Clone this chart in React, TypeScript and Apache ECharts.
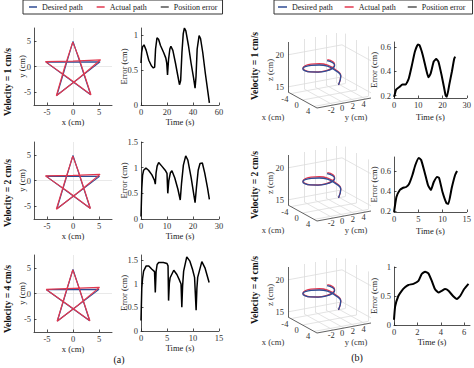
import React, { useEffect, useRef } from 'react';
import * as echarts from 'echarts';

const FONT = 'Liberation Serif, Times New Roman, serif';
const BLUE = '#2f4d95';
const RED = '#e2384f';

// ---------- (a) star paths: desired / actual, per velocity row ----------
const starDesX = [
  [0, 3.4, -5.2, 5.2, -3.1, 0],
  [0, 3.3, -5.2, 5.1, -3.1, 0],
  [0, 3.2, -5.1, 5.0, -3.0, 0],
];
const starDesY = [
  [4.9, -5.5, 0.85, 0.9, -5.6, 4.9],
  [4.9, -5.4, 0.85, 0.8, -5.5, 4.9],
  [4.7, -5.3, 0.75, 0.8, -5.35, 4.7],
];
const starActX = [
  [-0.05, 1.1, 3.45, -0.95, -5.3, 0, 5.3, 1.0, -3.2, -1.65, -0.05],
  [-0.05, 1.05, 3.35, -1.0, -5.3, 0, 5.2, 0.95, -3.2, -1.6, -0.05],
  [-0.05, 1.0, 3.25, -1.0, -5.15, 0, 5.1, 0.95, -3.05, -1.55, -0.05],
];
const starActY = [
  [4.75, 1.8, -5.5, -2.2, 0.95, 1.05, 1.3, -2.4, -5.7, -0.3, 4.75],
  [4.75, 1.75, -5.45, -2.15, 0.9, 1.0, 1.2, -2.35, -5.6, -0.3, 4.75],
  [4.6, 1.6, -5.3, -2.2, 0.8, 1.0, 1.2, -2.3, -5.4, -0.35, 4.6],
];

// ---------- (a) position error vs time ----------
const errAT = [
  [0, 0.5, 1.2, 2.3, 4, 6, 8, 9.5, 10.5, 11.2, 12.3, 13.5, 15, 17.4, 19.1, 19.8, 20.4, 21.2, 22.2, 23, 24.5, 26.5, 28.5, 29.6, 30.5, 31.5, 32.5, 33.4, 34.5, 36.5, 38.5, 40.5, 41.6, 42.3, 43.2, 44.7, 45.8, 47.5, 49.5, 51.5, 52.6],
  [0, 0.3, 0.6, 1, 1.9, 2.9, 4.2, 5.2, 5.5, 5.8, 6.2, 6.8, 8, 9.3, 10, 10.3, 10.7, 11.3, 11.9, 13, 14.2, 15.1, 15.6, 16.3, 17.2, 18, 19.3, 20.8, 21.3, 22, 22.7, 23.6, 24.5, 25.6, 26.3],
  [0, 0.15, 0.3, 0.5, 1, 1.5, 2.1, 2.6, 2.75, 2.9, 3.1, 3.4, 4.3, 5, 5.2, 5.3, 5.45, 5.6, 6.3, 6.9, 7.4, 7.7, 7.85, 8, 8.2, 8.8, 9.4, 9.9, 10.3, 10.6, 10.75, 10.9, 11.7, 12.3, 13.1],
];
const errAV = [
  [0.6, 0.75, 0.83, 0.86, 0.78, 0.64, 0.56, 0.53, 0.54, 0.8, 0.96, 0.94, 0.85, 0.75, 0.67, 0.6, 0.43, 0.65, 0.8, 0.84, 0.78, 0.6, 0.4, 0.29, 0.35, 0.75, 1.02, 1.1, 1.06, 0.85, 0.6, 0.38, 0.24, 0.4, 0.8, 0.99, 0.95, 0.75, 0.45, 0.18, 0.03],
  [0.05, 0.6, 0.85, 0.95, 0.99, 0.95, 0.86, 0.75, 0.68, 0.9, 1.03, 1.1, 1.03, 0.95, 0.89, 0.5, 0.75, 0.9, 0.94, 0.8, 0.58, 0.37, 0.7, 1.05, 1.23, 1.15, 0.8, 0.32, 0.6, 0.95, 1.08, 1.09, 0.9, 0.6, 0.38],
  [0.22, 0.9, 1.1, 1.26, 1.37, 1.37, 1.3, 1.25, 0.81, 1.25, 1.4, 1.44, 1.44, 1.42, 1.37, 0.64, 1.0, 1.12, 1.28, 1.19, 1.07, 0.99, 0.5, 0.95, 1.26, 1.56, 1.47, 1.3, 1.13, 0.44, 0.9, 1.13, 1.46, 1.33, 1.02],
];
const errAMax = [60, 30, 15];
const errAInt = [20, 10, 5];
const errAYMax = [1.1, 1.5, 1.6];
const errAYTicks = [[0, 0.5, 1], [0, 0.5, 1, 1.5], [0, 0.5, 1, 1.5]];

// ---------- (b) position error vs time ----------
const errBT = [
  [0, 0.2, 0.9, 2.2, 3.5, 4.8, 6.1, 7.4, 8.6, 9.9, 10.6, 11.9, 13.2, 14.2, 15.1, 16.4, 17.4, 18.3, 19.6, 20.6, 21.3, 21.8, 22.8, 23.9, 24.8, 25.2],
  [0, 0.07, 0.5, 1.2, 1.8, 2.5, 3.1, 3.8, 4.4, 5.1, 5.6, 6.3, 7, 7.6, 8.2, 8.9, 9.3, 10, 10.8, 11.2, 11.9, 12.6, 13],
  [0, 0.1, 0.37, 0.66, 0.94, 1.23, 1.66, 2.09, 2.37, 2.66, 2.94, 3.23, 3.5, 3.8, 4.09, 4.37, 4.66, 5.09, 5.37, 5.66, 6.0, 6.37],
];
const errBV = [
  [0.19, 0.2, 0.25, 0.27, 0.29, 0.29, 0.34, 0.45, 0.56, 0.62, 0.61, 0.53, 0.42, 0.35, 0.38, 0.48, 0.5, 0.48, 0.37, 0.27, 0.2, 0.19, 0.29, 0.4, 0.5, 0.52],
  [0.19, 0.21, 0.34, 0.41, 0.43, 0.44, 0.47, 0.56, 0.66, 0.73, 0.71, 0.59, 0.46, 0.41, 0.49, 0.54, 0.53, 0.39, 0.28, 0.27, 0.43, 0.56, 0.6],
  [0.09, 0.32, 0.5, 0.59, 0.65, 0.69, 0.71, 0.76, 0.88, 0.92, 0.89, 0.76, 0.62, 0.56, 0.59, 0.62, 0.59, 0.49, 0.45, 0.5, 0.62, 0.71],
];
const errBXMax = [30, 15, 6.5];
const errBXInt = [10, 5, 2];
const errBYMin = [0.18, 0.19, 0];
const errBYMax = [0.64, 0.74, 1];
const errBYTicks = [[0.2, 0.4, 0.6], [0.2, 0.4, 0.6], [0, 0.5, 1]];

// ---------- (b) 3-D helix (x, y, z in cm) ----------
const helixDesX = [-1.3, 0, 1.3, 2.25, 2.6, 2.25, 1.3, 0, -1.3, -2.25, -2.6, -2.25, -1.35, 0, 1.8, 3.29];
const helixDesY = [0.25, 0.6, 0.25, -0.7, -2, -3.3, -4.25, -4.6, -4.25, -3.3, -2, -0.7, 0.34, 0.9, 1.12, -0.1];
const helixDesZ = [19.2, 19.13, 19.06, 18.99, 18.92, 18.85, 18.78, 18.71, 18.64, 18.57, 18.5, 18.43, 18.3, 18.0, 17.4, 16.6];
const helixActX = [-1.3, 0, 1.3, 2.25, 2.6, 2.2, 1.3, 0, -1.3, -2.25, -2.65, -2.3, -1.35, 0, 1.8, 3.29];
const helixActY = [0.3, 0.65, 0.25, -0.7, -2, -3.3, -4.2, -4.55, -4.2, -3.3, -2, -0.65, 0.4, 0.95, 1.12, -0.1];
const helixActZ = [19.35, 19.28, 19.2, 19.1, 18.95, 18.85, 18.78, 18.75, 18.75, 18.72, 18.68, 18.6, 18.45, 18.1, 17.45, 16.6];

const X3 = [-5, 5];
const Y3 = [-5, 5];
const Z3 = [14.2, 22];
const X3_TICKS = [-4, 0, 4];
const Y3_TICKS = [-2, 0, 2, 4];
const Z3_TICKS = [15, 20];

const velocityLabels = ['Velocity = 1 cm/s', 'Velocity = 2 cm/s', 'Velocity = 4 cm/s'];
const legendNames = ['Desired path', 'Actual path', 'Position error'];

// ---------- layout ----------
const ROW_A = [0, 114, 227];
const ROW_3D = [0, 113, 225];
const ERRB_TOP = [42, 157, 267];
const ERRB_H = [56, 55, 58];

const zip = (a: number[], b: number[]) => a.map((v, i) => [v, b[i]]);
const onlyTicks = (vals: number[]) => (v: number) => {
  const m = vals.find((a) => Math.abs(a - v) < 1e-6);
  return m === undefined ? '' : String(m);
};

function proj(x: number, y: number, z: number, row: number) {
  const fx = (x - X3[0]) / (X3[1] - X3[0]);
  const fy = (y - Y3[0]) / (Y3[1] - Y3[0]);
  const fz = (z - Z3[0]) / (Z3[1] - Z3[0]);
  const Lx = 288;
  const Ly = 92 + ROW_3D[row];
  return [Lx + 29 * fx + 54 * fy, Ly + 16 * fx - 10 * fy - 50 * fz];
}

const axisLineStyle = { color: '#262626', width: 0.8 };
const labelStyle = { color: '#333', fontFamily: FONT, fontSize: 8.5 };
const nameStyle = { color: '#222', fontFamily: FONT, fontSize: 8.5 };

function valAxis(gi: number, o: any) {
  return {
    type: 'value',
    gridIndex: gi,
    axisLine: { show: true, onZero: false, lineStyle: axisLineStyle },
    axisTick: { show: true, inside: true, length: 2.5, lineStyle: axisLineStyle, customValues: o.ticks },
    axisLabel: { ...labelStyle, margin: o.margin ?? 3, formatter: onlyTicks(o.ticks), customValues: o.ticks },
    splitLine: { show: !!o.split, showMinLine: false, showMaxLine: false, lineStyle: { color: '#e3e3e3', width: 0.8 } },
    nameLocation: 'middle',
    nameMoveOverlap: false,
    nameTextStyle: nameStyle,
    ...o.rest,
  };
}

function buildOption() {
  const grid: any[] = [];
  const xAxis: any[] = [];
  const yAxis: any[] = [];
  const series: any[] = [];
  const graphic: any[] = [];

  // star plots (grid 0..2)
  for (let r = 0; r < 3; r++) {
    grid.push({ left: 34, top: 28 + ROW_A[r], width: 78, height: 77 });
    xAxis.push(valAxis(r, { ticks: [-5, 0, 5], split: true, margin: 2, rest: { min: -7.5, max: 7.5, splitNumber: 3, name: 'x (cm)', nameGap: 12 } }));
    yAxis.push(valAxis(r, { ticks: [-5, 0, 5], split: true, margin: 3, rest: { min: -7.5, max: 7.5, splitNumber: 3, name: 'y (cm)', nameGap: 7.5 } }));
  }
  // error (a) (grid 3..5)
  for (let r = 0; r < 3; r++) {
    const g = 3 + r;
    grid.push({ left: 141, top: 28 + ROW_A[r], width: 78, height: r === 2 ? 76 : 77 });
    const xt: number[] = [];
    for (let v = 0; v <= errAMax[r]; v += errAInt[r]) xt.push(v);
    xAxis.push(valAxis(g, { ticks: xt, margin: 2, rest: { min: 0, max: errAMax[r], interval: errAInt[r], name: 'Time (s)', nameGap: 12 } }));
    yAxis.push(valAxis(g, { ticks: errAYTicks[r], margin: 3, rest: { min: 0, max: errAYMax[r], interval: 0.5, name: 'Error (cm)', nameGap: 13 } }));
  }
  // error (b) (grid 6..8)
  for (let r = 0; r < 3; r++) {
    const g = 6 + r;
    grid.push({ left: 394, top: ERRB_TOP[r], width: 76, height: ERRB_H[r] });
    const xt: number[] = [];
    for (let v = 0; v <= errBXMax[r]; v += errBXInt[r]) xt.push(v);
    xAxis.push(valAxis(g, { ticks: xt, margin: 2, rest: { min: 0, max: errBXMax[r], interval: errBXInt[r], name: 'Time (s)', nameGap: r === 2 ? 12 : 14 } }));
    const yr: any = { min: errBYMin[r], max: errBYMax[r], name: 'Error (cm)', nameGap: 16 };
    if (r === 2) yr.interval = 0.5; else yr.splitNumber = 2;
    yAxis.push(valAxis(g, { ticks: errBYTicks[r], margin: 3, rest: yr }));
  }
  // hidden page-wide cartesian for the projected 3-D plots (grid 9)
  grid.push({ left: 0, top: 0, width: 474, height: 368 });
  xAxis.push({ type: 'value', gridIndex: 9, min: 0, max: 474, show: false });
  yAxis.push({ type: 'value', gridIndex: 9, min: 0, max: 368, inverse: true, show: false });

  for (let r = 0; r < 3; r++) {
    series.push({ type: 'line', name: 'Desired path', xAxisIndex: r, yAxisIndex: r, data: zip(starDesX[r], starDesY[r]), showSymbol: false, symbol: 'none', lineStyle: { color: BLUE, width: 1.2 }, itemStyle: { color: BLUE } });
    series.push({ type: 'line', name: 'Actual path', xAxisIndex: r, yAxisIndex: r, data: zip(starActX[r], starActY[r]), showSymbol: false, symbol: 'none', lineStyle: { color: RED, width: 1.2 }, itemStyle: { color: RED } });
    series.push({ type: 'line', name: 'Position error', xAxisIndex: 3 + r, yAxisIndex: 3 + r, data: zip(errAT[r], errAV[r]), symbol: 'none', lineStyle: { color: '#000', width: 1.5 }, itemStyle: { color: '#000' } });
    series.push({ type: 'line', name: 'Position error', xAxisIndex: 6 + r, yAxisIndex: 6 + r, data: zip(errBT[r], errBV[r]), symbol: 'none', smooth: 0.15, lineStyle: { color: '#000', width: 2 }, itemStyle: { color: '#000' } });

    // 3-D box
    const P = (x: number, y: number, z: number) => proj(x, y, z, r);
    const [x0, x1] = X3, [y0, y1] = Y3, [z0, z1] = Z3;
    const segs: number[][][] = [];
    X3_TICKS.forEach((t) => segs.push([P(t, y0, z0), P(t, y1, z0)], [P(t, y1, z0), P(t, y1, z1)]));
    Y3_TICKS.forEach((t) => segs.push([P(x0, t, z0), P(x1, t, z0)], [P(x0, t, z0), P(x0, t, z1)]));
    Z3_TICKS.forEach((t) => segs.push([P(x0, y0, t), P(x0, y1, t)], [P(x0, y1, t), P(x1, y1, t)]));
    series.push({ type: 'lines', coordinateSystem: 'cartesian2d', xAxisIndex: 9, yAxisIndex: 9, silent: true, lineStyle: { color: '#dcdcdc', width: 0.8, opacity: 1 }, data: segs.map((s) => ({ coords: s })) });
    const axSegs = [[P(x0, y0, z0), P(x1, y0, z0)], [P(x1, y0, z0), P(x1, y1, z0)], [P(x0, y0, z0), P(x0, y0, z1)]];
    series.push({ type: 'lines', coordinateSystem: 'cartesian2d', xAxisIndex: 9, yAxisIndex: 9, silent: true, lineStyle: { color: '#3a3a3a', width: 0.8, opacity: 1 }, data: axSegs.map((s) => ({ coords: s })) });
    series.push({ type: 'line', name: 'Actual path', xAxisIndex: 9, yAxisIndex: 9, smooth: 0.5, symbol: 'none', data: helixActX.map((x, i) => P(x, helixActY[i], helixActZ[i])), lineStyle: { color: RED, width: 1.3 }, itemStyle: { color: RED } });
    series.push({ type: 'line', name: 'Desired path', xAxisIndex: 9, yAxisIndex: 9, smooth: 0.5, symbol: 'none', data: helixDesX.map((x, i) => P(x, helixDesY[i], helixDesZ[i])), lineStyle: { color: BLUE, width: 1.3 }, itemStyle: { color: BLUE } });

    const txt = (text: string, pos: number[], align: string, extra: any = {}) => ({
      type: 'text', x: pos[0], y: pos[1], silent: true, ...extra,
      style: { text, fill: '#333', fontFamily: FONT, fontSize: 8.5, align, verticalAlign: 'middle', textAlign: align, textVerticalAlign: 'middle' },
    });
    Z3_TICKS.forEach((t) => { const p = P(x0, y0, t); graphic.push(txt(String(t), [p[0] - 4, p[1]], 'right')); });
    X3_TICKS.forEach((t) => { const p = P(t, y0, z0); graphic.push(txt(String(t), [p[0] - 6, p[1] + 5], 'center')); });
    Y3_TICKS.forEach((t) => { const p = P(x1, t, z0); graphic.push(txt(String(t), [p[0] - 2, p[1] + 5], 'center')); });
    const L = P(x0, y0, z0);
    graphic.push(txt('x (cm)', [L[0] - 15, L[1] + 25], 'center'));
    graphic.push(txt('y (cm)', [L[0] + 68, L[1] + 25], 'center'));
    graphic.push(txt('z (cm)', [L[0] - 18, L[1] - 22], 'center', { rotation: Math.PI / 2 }));

    const vel = (x: number, y: number) => ({
      type: 'text', x, y, rotation: Math.PI / 2, silent: true,
      style: { text: velocityLabels[r], fill: '#111', fontFamily: FONT, fontWeight: 'bold', fontSize: 9.5, align: 'center', verticalAlign: 'middle', textAlign: 'center', textVerticalAlign: 'middle' },
    });
    graphic.push(vel(8, [82, 193, 299][r]));
    graphic.push(vel(255, [66, 185, 290][r]));
  }
  graphic.push({ type: 'text', x: 119, y: 359, silent: true, style: { text: '(a)', fill: '#111', fontFamily: FONT, fontSize: 10, align: 'center', verticalAlign: 'middle', textAlign: 'center', textVerticalAlign: 'middle' } });
  graphic.push({ type: 'text', x: 357, y: 357, silent: true, style: { text: '(b)', fill: '#111', fontFamily: FONT, fontSize: 10, align: 'center', verticalAlign: 'middle', textAlign: 'center', textVerticalAlign: 'middle' } });

  const legendData = [
    { name: legendNames[0], itemStyle: { color: BLUE } },
    { name: legendNames[1], itemStyle: { color: RED } },
    { name: legendNames[2], itemStyle: { color: '#555' } },
  ];
  const legendBase = {
    top: 0, icon: 'rect', itemHeight: 1.5, selectedMode: false, orient: 'horizontal',
    borderColor: '#333', borderWidth: 1, backgroundColor: '#fff',
    textStyle: { fontFamily: FONT, fontSize: 8, color: '#222' }, data: legendData,
  };
  const legend = [
    { ...legendBase, left: 23, padding: [3, 5, 3, 6], itemWidth: 8, itemGap: 14 },
    { ...legendBase, left: 274, padding: [3, 7, 3, 4], itemWidth: 9, itemGap: 12 },
  ];

  return { animation: false, backgroundColor: '#fff', textStyle: { fontFamily: FONT }, grid, xAxis, yAxis, series, graphic, legend };
}

export default function App() {
  const ref = useRef<HTMLDivElement>(null);
  useEffect(() => {
    if (!ref.current) return;
    const chart = echarts.init(ref.current, undefined, { renderer: 'svg' });
    chart.setOption(buildOption() as any);
    return () => chart.dispose();
  }, []);
  return <div ref={ref} style={{ position: 'absolute', left: 0, top: 0, width: 474, height: 368 }} />;
}
